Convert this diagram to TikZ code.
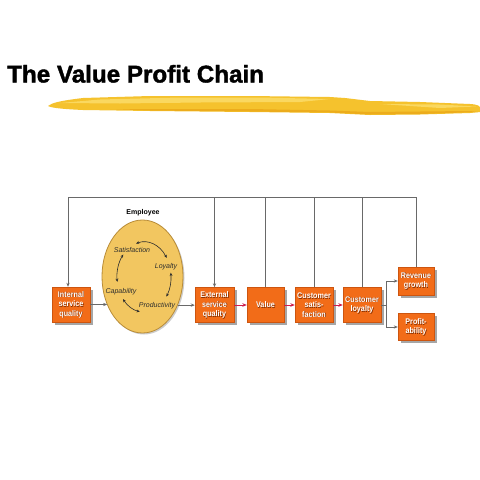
\documentclass[tikz,border=0pt]{standalone}
\usepackage{fontspec}
\setmainfont{Liberation Sans}
\newfontfamily\boxfont[FakeStretch=0.88]{Liberation Sans}
\newfontfamily\titlefont[FakeBold=1.6]{Liberation Sans}
\usetikzlibrary{shadows,arrows.meta,calc,shapes.geometric}
\definecolor{boxorange}{RGB}{242,108,24}
\definecolor{boxedge}{RGB}{205,85,15}
\definecolor{txtshadow}{RGB}{130,45,0}
\definecolor{ellfill}{RGB}{242,198,96}
\definecolor{elledge}{RGB}{185,140,55}
\definecolor{linegray}{RGB}{105,105,105}
\definecolor{redarrow}{RGB}{205,30,75}
\definecolor{brushA}{RGB}{245,194,45}
\definecolor{brushB}{RGB}{250,216,96}
\definecolor{brushC}{RGB}{236,172,28}
\definecolor{ringc}{RGB}{45,45,45}
\tikzset{
  obox/.style={draw=boxedge, line width=0.4, fill=boxorange, inner sep=0,
    drop shadow={shadow xshift=2.5pt, shadow yshift=-2.5pt, fill=black, opacity=0.35}},
  otext/.style={text=white, align=center, inner sep=0,
    font=\boxfont\bfseries\fontsize{8.2}{9.4}\selectfont},
  stext/.style={otext, text=txtshadow},
  gline/.style={draw=linegray, line width=0.7},
  garrow/.style={gline, -{Stealth[length=4pt,width=3.2pt]}},
  rarrow/.style={draw=redarrow, line width=0.8, -{Stealth[length=4.5pt,width=3.6pt]}},
  ringarc/.style={draw=ringc, line width=0.6,
    {Stealth[length=3.2pt,width=2.8pt]}-{Stealth[length=3.2pt,width=2.8pt]}},
  ringlabel/.style={text=ringc, inner sep=0, font=\itshape\fontsize{7}{8}\selectfont},
}
\newcommand{\orangebox}[6]{%
  \node[obox, minimum width=#3, minimum height=#4] (#1) at (#2) {};
  \node[stext] (#1-s) at ([shift={(0.6pt,-0.6pt)}]#1.center) {#5};
  \node[otext] (#1-t) at (#1.center) {#5};
}
\begin{document}
\begin{tikzpicture}[x=1pt,y=-1pt]
\useasboundingbox[fill=white] (0,0) rectangle (480,480);
% title
\node[anchor=base west, inner sep=0, font=\titlefont\bfseries\fontsize{24.2}{28}\selectfont] (title) at (7,82.5) {The Value Profit Chain};
% brush stroke
\fill[brushA] (48,106) .. controls (52,103) and (58,101) .. (83,98) -- (150,96) -- (250,96) -- (330,97) -- (345,98)
  -- (370,101) -- (420,102) -- (470,104) .. controls (478,104.5) and (480,106) .. (480,108) -- (480,112)
  -- (470,113) -- (420,114.5) -- (370,115) -- (330,113) -- (250,112) -- (150,111) -- (83,110)
  .. controls (62,109) and (52,108) .. cycle;
\fill[brushB] (60,103) -- (100,99.5) -- (180,97.5) -- (260,97.5) -- (330,99) -- (300,102) -- (200,102.5) -- (120,103.5) -- cycle;
\fill[brushB] (380,104) -- (440,104.5) -- (476,106.5) -- (440,108) -- cycle;
\fill[brushC] (110,109) -- (250,109) -- (330,110.5) -- (370,112) -- (470,111) -- (478,112) -- (420,114) -- (370,114.5) -- (330,112.5) -- (250,111.5) -- (150,110.5) -- cycle;
% feedback top line
\coordinate (tl) at (68,197);
\coordinate (tr) at (416,197);
% boxes
\orangebox{isq}{71,304.5}{38}{35}{Internal\\service\\quality}{}
\orangebox{esq}{214.5,305}{39}{35}{External\\service\\quality}{}
\orangebox{val}{265.5,305}{37}{35}{Value}{}
\orangebox{csat}{314,305}{38}{35}{Customer\\satis-\\faction}{}
\orangebox{cloy}{362,305}{38}{35}{Customer\\loyalty}{}
\orangebox{rev}{416,281}{36}{28}{Revenue\\growth}{}
\orangebox{prof}{416,327}{36}{27}{Profit-\\ability}{}
% employee ellipse
\node[ellipse, draw=elledge, fill=ellfill, line width=0.8, minimum width=81, minimum height=113, inner sep=0,
  drop shadow={shadow xshift=1.5pt, shadow yshift=-1.5pt, fill=black, opacity=0.2}] (emp) at (142.5,276.5) {};
\node[inner sep=0, font=\bfseries\fontsize{7}{8}\selectfont] (emplabel) at (143,213) {Employee};
\coordinate (ring) at (144,277);
\node[ringlabel] (lsat) at (132,250) {Satisfaction};
\node[ringlabel] (lloy) at (166,267) {Loyalty};
\node[ringlabel] (lcap) at (121,292) {Capability};
\node[ringlabel] (lpro) at (157,306) {Productivity};
\draw[ringarc] ([shift={(-107:27 and 35)}]ring) arc[start angle=-107, end angle=-33, x radius=27, y radius=35];
\draw[ringarc] ([shift={(-7:27 and 35)}]ring) arc[start angle=-7, end angle=34, x radius=27, y radius=35];
\draw[ringarc] ([shift={(99:27 and 35)}]ring) arc[start angle=99, end angle=141, x radius=27, y radius=35];
\draw[ringarc] ([shift={(172:27 and 35)}]ring) arc[start angle=172, end angle=220, x radius=27, y radius=35];
% feedback lines
\draw[gline] (tl) -- (tr);
\draw[garrow] (tl) -- (tl |- isq.north);
\draw[garrow] (esq.north |- tl) -- (esq.north);
\draw[gline] (val.north |- tl) -- (val.north);
\draw[gline] (csat.north |- tl) -- (csat.north);
\draw[gline] (cloy.north |- tl) -- (cloy.north);
\draw[gline] (tr) -- (rev.north);
% main flow
\draw[garrow] (isq.east) -- (isq.east -| emp.219);
\draw[garrow] (emp.321) -- (emp.321 -| esq.west);
\draw[rarrow] (esq.east) -- (val.west);
\draw[rarrow] (val.east) -- (csat.west);
\draw[rarrow] (csat.east) -- (cloy.west);
\draw[garrow] (cloy.east) -- ++(5,0) |- (rev.west);
\draw[garrow] (cloy.east) -- ++(5,0) |- (prof.west);
\end{tikzpicture}
\end{document}
